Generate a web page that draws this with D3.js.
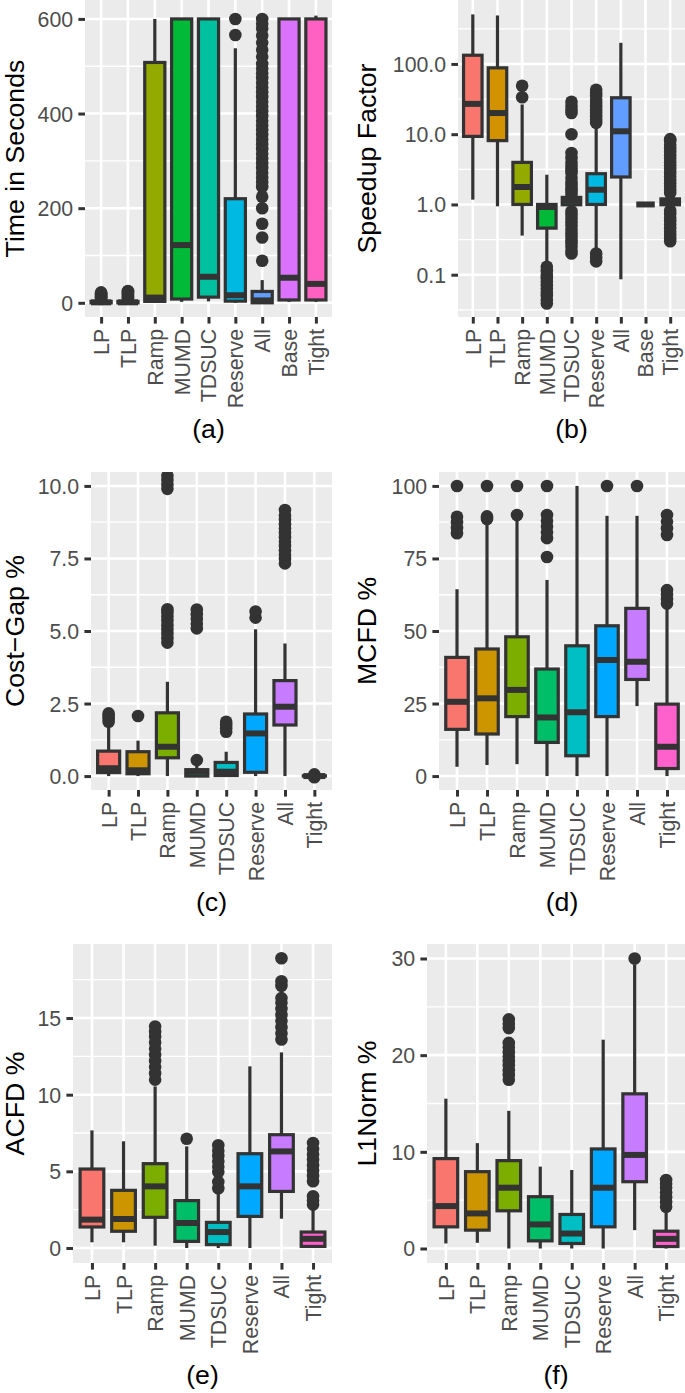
<!DOCTYPE html>
<html>
<head>
<meta charset="utf-8">
<script src="https://cdn.jsdelivr.net/npm/d3@7"></script>
<style>
  body { margin: 0; background: #ffffff; }
  svg text { font-family: "Liberation Sans", Arial, Helvetica, sans-serif; }
</style>
</head>
<body>
<svg id="chart" width="685" height="1393"></svg>
<script>
// categories and fill colours (ggplot hue palette)
const cats9 = ["LP", "TLP", "Ramp", "MUMD", "TDSUC", "Reserve", "All", "Base", "Tight"];
const cats8 = ["LP", "TLP", "Ramp", "MUMD", "TDSUC", "Reserve", "All", "Tight"];
const colors9 = ["#F8766D", "#D39200", "#93AA00", "#00BA38", "#00C19F", "#00B9E3", "#619CFF", "#DB72FB", "#FF61C3"];
const colors8 = ["#F8766D", "#CD9600", "#7CAE00", "#00BE67", "#00BFC4", "#00A9FF", "#C77CFF", "#FF61CC"];

// box stats per category: [lower whisker, q1, median, q3, upper whisker]
// (a) Time in Seconds
const timeStats = [
  [0, 0, 1, 3, 7], [0, 0, 1, 3, 8], [0, 3, 11, 508, 600], [2, 8, 122, 600, 600],
  [3, 12, 55, 600, 600], [0, 3.5, 16, 220, 538], [0, 0, 5, 24, 48],
  [2, 6, 53, 600, 600], [2, 6, 40, 600, 607]
];
const timeOutliers = [
  [8, 10, 12, 14, 16, 18, 20, 22],
  [9, 11, 13, 15, 17, 19, 21, 23, 25],
  [], [], [],
  [566, 600],
  [89, 138, 167, 200, 224, 245, 255, 265, 275, 285, 295, 305, 315, 325, 335, 345, 355, 365, 375,
   385, 395, 405, 415, 425, 435, 445, 455, 465, 475, 485, 495, 505, 520, 535, 550, 565, 580, 590, 600],
  [], []
];
const timeTicks = [0, 200, 400, 600];
const timeTickLabels = ["0", "200", "400", "600"];
const timeMinor = [100, 300, 500];

// (b) Speedup Factor (log scale)
const speedStats = [
  [1.17, 9.3, 27, 133, 507], [0.94, 8.1, 20, 88, 490], [0.36, 1.0, 1.77, 3.97, 26.5],
  [0.154, 0.46, 0.92, 1.0, 2.65], [0.85, 0.99, 1.14, 1.26, 1.3], [0.24, 1.0, 1.62, 2.74, 13],
  [0.086, 2.46, 11, 33, 200], [1, 1, 1, 1, 1], [0.88, 0.99, 1.12, 1.2, 1.35]
];
const speedOutliers = [
  [], [],
  [33.6, 49],
  [0.039, 0.044, 0.05, 0.056, 0.063, 0.071, 0.08, 0.09, 0.1, 0.113, 0.13],
  [0.2, 0.22, 0.25, 0.28, 0.31, 0.35, 0.39, 0.44, 0.5, 0.56, 0.63, 0.71, 0.8,
   1.4, 1.55, 1.7, 1.9, 2.1, 2.4, 2.8, 3.1, 3.5, 3.95, 4.6, 5.4, 10, 20, 22.5, 25.5, 29],
  [0.155, 0.175, 0.2, 14.5, 16, 18, 20, 22.5, 25, 28, 31, 35, 39, 43],
  [], [],
  [0.3, 0.33, 0.37, 0.41, 0.46, 0.52, 0.58, 0.65, 0.73, 0.82,
   1.45, 1.6, 1.8, 2.0, 2.25, 2.5, 2.8, 3.2, 3.6, 4.0, 4.5, 5.0, 5.6, 6.3, 7.1, 8.0, 8.5]
];
const speedTicks = [0.1, 1, 10, 100];
const speedTickLabels = ["0.1", "1.0", "10.0", "100.0"];
const speedMinor = [0.0316, 0.316, 3.16, 31.6, 316];

// (c) Cost-Gap %
const gapStats = [
  [0, 0.12, 0.27, 0.86, 1.8], [0, 0.08, 0.2, 0.84, 1.22], [0, 0.63, 1.01, 2.18, 3.25],
  [0, 0, 0.15, 0.22, 0.45], [0, 0.02, 0.15, 0.47, 0.84], [0, 0.13, 1.47, 2.14, 5.06],
  [0, 1.76, 2.39, 3.29, 4.57], [0, 0, 0, 0.01, 0.01]
];
const gapOutliers = [
  [1.87, 1.97, 2.07, 2.16],
  [2.07],
  [4.6, 4.75, 4.9, 5.05, 5.2, 5.35, 5.5, 5.65, 5.75, 9.9, 10.05, 10.2, 10.35],
  [0.55, 5.09, 5.25, 5.42, 5.58, 5.74],
  [1.53, 1.65, 1.76, 1.87],
  [5.46, 5.67],
  [7.33, 7.48, 7.63, 7.78, 7.93, 8.08, 8.23, 8.38, 8.53, 8.68, 8.83, 8.98, 9.17],
  [0.06, -0.04]
];
const gapTicks = [0, 2.5, 5, 7.5, 10];
const gapTickLabels = ["0.0", "2.5", "5.0", "7.5", "10.0"];
const gapMinor = [1.25, 3.75, 6.25, 8.75];

// (d) MCFD %
const mcfdStats = [
  [3.2, 16.1, 25.6, 40.9, 64.4], [3.8, 14.5, 26.8, 43.8, 87], [4.1, 20.5, 29.7, 48, 88],
  [0, 11.6, 20.2, 36.9, 67.6], [0, 7, 22, 44.9, 100], [0, 20.5, 40, 51.8, 89.7],
  [24.1, 33.3, 39.4, 57.8, 89.7], [0, 2.6, 10.1, 24.8, 57.8]
];
const mcfdOutliers = [
  [83.7, 85.5, 87.5, 89.4, 100],
  [88.6, 89.5, 100],
  [90, 100],
  [75.5, 82, 84, 86, 88, 90, 100],
  [],
  [100],
  [100],
  [59.5, 61, 62.6, 64.1, 83.1, 85.4, 87.7, 90]
];
const mcfdTicks = [0, 25, 50, 75, 100];
const mcfdTickLabels = ["0", "25", "50", "75", "100"];
const mcfdMinor = [12.5, 37.5, 62.5, 87.5];

// (e) ACFD %
const acfdStats = [
  [0.37, 1.37, 1.85, 5.15, 7.67], [0.37, 1.09, 1.89, 3.76, 6.96], [0.15, 2.0, 4.02, 5.5, 10.54],
  [0, 0.43, 1.63, 3.09, 6.63], [0, 0.22, 1.04, 1.67, 3.59], [0, 2.06, 4.02, 6.15, 11.85],
  [1.91, 3.69, 6.3, 7.39, 12.76], [0, 0.1, 0.6, 1.04, 2.5]
];
const acfdOutliers = [
  [], [],
  [10.98, 11.4, 11.8, 12.2, 12.6, 13.0, 13.4, 13.8, 14.1, 14.45],
  [7.13],
  [3.9, 4.3, 4.95, 5.3, 5.65, 6.0, 6.35, 6.7],
  [],
  [13.6, 14.0, 14.4, 14.8, 15.2, 15.6, 16.0, 16.3, 17.1, 17.4, 18.9],
  [2.83, 3.1, 3.37, 4.35, 4.7, 5.05, 5.4, 5.75, 6.1, 6.45, 6.85]
];
const acfdTicks = [0, 5, 10, 15];
const acfdTickLabels = ["0", "5", "10", "15"];
const acfdMinor = [2.5, 7.5, 12.5, 17.5];

// (f) L1Norm %
const l1Stats = [
  [0.52, 2.24, 4.39, 9.3, 15.5], [0.59, 1.9, 3.63, 7.95, 10.9], [0, 3.9, 6.29, 9.09, 14.24],
  [0, 0.79, 2.49, 5.36, 8.47], [0, 0.52, 1.55, 3.52, 8.12], [0, 2.24, 6.29, 10.3, 21.6],
  [1.9, 6.91, 9.68, 16.0, 29.4], [0, 0.2, 1.0, 1.79, 3.8]
];
const l1Outliers = [
  [], [],
  [17.46, 17.95, 18.45, 18.95, 19.4, 19.85, 20.3, 20.8, 21.27, 22.8, 23.25, 23.7],
  [], [], [],
  [30],
  [4.32, 4.8, 5.3, 5.8, 6.3, 6.7, 7.08]
];
const l1Ticks = [0, 10, 20, 30];
const l1TickLabels = ["0", "10", "20", "30"];
const l1Minor = [5, 15, 25];

// layout of the six panels
const panels = [
  { id: "a", cats: cats9, colors: colors9, stats: timeStats, outliers: timeOutliers,
    ticks: timeTicks, tickLabels: timeTickLabels, minor: timeMinor, log: false, domain: [-30, 640],
    x0: 85, x1: 332, y0: 0, y1: 317, title: "Time in Seconds", titleX: 24, caption: "(a)" },
  { id: "b", cats: cats9, colors: colors9, stats: speedStats, outliers: speedOutliers,
    ticks: speedTicks, tickLabels: speedTickLabels, minor: speedMinor, log: true, domain: [0.025, 813],
    x0: 458, x1: 685, y0: 0, y1: 317, title: "Speedup Factor", titleX: 376, caption: "(b)" },
  { id: "c", cats: cats8, colors: colors8, stats: gapStats, outliers: gapOutliers,
    ticks: gapTicks, tickLabels: gapTickLabels, minor: gapMinor, log: false, domain: [-0.48, 10.48],
    x0: 91, x1: 332, y0: 472, y1: 790, title: "Cost\u2212Gap %", titleX: 24, caption: "(c)" },
  { id: "d", cats: cats8, colors: colors8, stats: mcfdStats, outliers: mcfdOutliers,
    ticks: mcfdTicks, tickLabels: mcfdTickLabels, minor: mcfdMinor, log: false, domain: [-4.8, 104.8],
    x0: 439, x1: 685, y0: 472, y1: 790, title: "MCFD %", titleX: 376, caption: "(d)" },
  { id: "e", cats: cats8, colors: colors8, stats: acfdStats, outliers: acfdOutliers,
    ticks: acfdTicks, tickLabels: acfdTickLabels, minor: acfdMinor, log: false, domain: [-0.98, 19.83],
    x0: 73, x1: 332, y0: 944, y1: 1263, title: "ACFD %", titleX: 24, caption: "(e)" },
  { id: "f", cats: cats8, colors: colors8, stats: l1Stats, outliers: l1Outliers,
    ticks: l1Ticks, tickLabels: l1TickLabels, minor: l1Minor, log: false, domain: [-1.5, 31.5],
    x0: 427, x1: 685, y0: 944, y1: 1263, title: "L1Norm %", titleX: 376, caption: "(f)" }
];

const svg = d3.select("#chart");
svg.append("rect").attr("width", 685).attr("height", 1393).attr("fill", "#ffffff");

const dark = "#333333";
const tickLen = 6.6;
const tickPad = 5.3;
const tickFont = 21.3;
const titleFont = 26.7;

function drawPanel(p) {
  const g = svg.append("g").attr("class", "panel-" + p.id);

  const x = d3.scalePoint().domain(p.cats).range([p.x0, p.x1]).padding(0.6);
  const y = (p.log ? d3.scaleLog() : d3.scaleLinear()).domain(p.domain).range([p.y1, p.y0]);
  const boxW = x.step() * 0.75;

  // panel background and grid
  g.append("rect")
    .attr("x", p.x0).attr("y", p.y0)
    .attr("width", p.x1 - p.x0).attr("height", p.y1 - p.y0)
    .attr("fill", "#EBEBEB");

  g.selectAll(".minor").data(p.minor).enter().append("line")
    .attr("x1", p.x0).attr("x2", p.x1)
    .attr("y1", d => y(d)).attr("y2", d => y(d))
    .attr("stroke", "#ffffff").attr("stroke-width", 1.3);

  g.selectAll(".major").data(p.ticks).enter().append("line")
    .attr("x1", p.x0).attr("x2", p.x1)
    .attr("y1", d => y(d)).attr("y2", d => y(d))
    .attr("stroke", "#ffffff").attr("stroke-width", 2.6);

  g.selectAll(".vgrid").data(p.cats).enter().append("line")
    .attr("x1", d => x(d)).attr("x2", d => x(d))
    .attr("y1", p.y0).attr("y2", p.y1)
    .attr("stroke", "#ffffff").attr("stroke-width", 2.6);

  // clip marks to the panel
  svg.append("clipPath").attr("id", "clip-" + p.id)
    .append("rect")
    .attr("x", p.x0).attr("y", p.y0)
    .attr("width", p.x1 - p.x0).attr("height", p.y1 - p.y0);

  const body = g.append("g").attr("clip-path", `url(#clip-${p.id})`);

  p.cats.forEach((c, i) => {
    const [lo, q1, med, q3, hi] = p.stats[i];
    const cx = x(c);
    const grp = body.append("g");

    grp.selectAll("circle").data(p.outliers[i]).enter().append("circle")
      .attr("cx", cx).attr("cy", d => y(d)).attr("r", 6.3)
      .attr("fill", dark);

    grp.append("line")
      .attr("x1", cx).attr("x2", cx).attr("y1", y(hi)).attr("y2", y(q3))
      .attr("stroke", dark).attr("stroke-width", 3.2);
    grp.append("line")
      .attr("x1", cx).attr("x2", cx).attr("y1", y(q1)).attr("y2", y(lo))
      .attr("stroke", dark).attr("stroke-width", 3.2);

    grp.append("rect")
      .attr("x", cx - boxW / 2).attr("width", boxW)
      .attr("y", y(q3)).attr("height", Math.max(0, y(q1) - y(q3)))
      .attr("fill", p.colors[i])
      .attr("stroke", dark).attr("stroke-width", 3.2);

    grp.append("line")
      .attr("x1", cx - boxW / 2).attr("x2", cx + boxW / 2)
      .attr("y1", y(med)).attr("y2", y(med))
      .attr("stroke", dark).attr("stroke-width", 6);
  });

  // y axis
  const yAxis = g.append("g")
    .attr("transform", `translate(${p.x0},0)`)
    .call(d3.axisLeft(y).tickValues(p.ticks)
      .tickFormat((d, i) => p.tickLabels[i])
      .tickSize(tickLen).tickPadding(tickPad));
  yAxis.select(".domain").remove();
  yAxis.selectAll(".tick line").attr("stroke", dark).attr("stroke-width", 3);
  yAxis.selectAll(".tick text")
    .attr("fill", "#4D4D4D")
    .attr("font-size", tickFont)
    .attr("font-family", "Liberation Sans, Arial, sans-serif")
    .attr("dy", "0.35em");

  // x axis with rotated category labels
  const xAxis = g.append("g")
    .attr("transform", `translate(0,${p.y1})`)
    .call(d3.axisBottom(x).tickSize(tickLen).tickPadding(tickPad));
  xAxis.select(".domain").remove();
  xAxis.selectAll(".tick line").attr("stroke", dark).attr("stroke-width", 3);
  xAxis.selectAll(".tick text")
    .attr("fill", "#4D4D4D")
    .attr("font-size", tickFont)
    .attr("font-family", "Liberation Sans, Arial, sans-serif")
    .attr("transform", "rotate(-90)")
    .attr("x", -(tickLen + tickPad))
    .attr("y", 0)
    .attr("dy", "0.35em")
    .attr("text-anchor", "end");

  // axis title and panel caption
  g.append("text")
    .attr("transform", `translate(${p.titleX},${(p.y0 + p.y1) / 2}) rotate(-90)`)
    .attr("text-anchor", "middle")
    .attr("font-size", titleFont)
    .attr("fill", "#000000")
    .text(p.title);

  g.append("text")
    .attr("x", (p.x0 + p.x1) / 2)
    .attr("y", p.y1 + 120.5)
    .attr("text-anchor", "middle")
    .attr("font-size", titleFont)
    .attr("fill", "#000000")
    .text(p.caption);
}

panels.forEach(drawPanel);
</script>
</body>
</html>
